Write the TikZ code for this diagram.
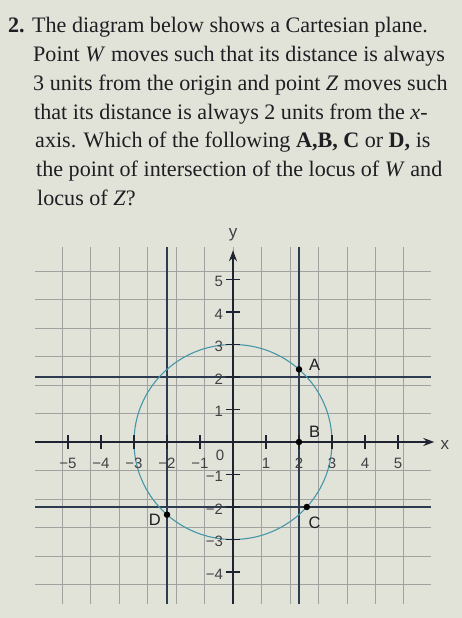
\documentclass[tikz,border=0pt]{standalone}
\usepackage{fontspec}
\setmainfont{Liberation Serif}
\newfontfamily\labfont{Liberation Sans}
\usetikzlibrary{arrows.meta}
\definecolor{bg}{RGB}{226,227,216}
\definecolor{ink}{RGB}{30,30,35}
\definecolor{gridc}{RGB}{160,162,160}
\definecolor{axisc}{RGB}{30,35,50}
\definecolor{linec}{RGB}{45,60,80}
\definecolor{circc}{RGB}{70,150,170}
\tikzset{
  txt/.style={anchor=base west, inner sep=0pt, text=ink, font=\fontsize{22.1}{26}\selectfont},
  gridline/.style={draw=gridc, line width=0.6pt},
  locus/.style={draw=linec, line width=1.3pt},
  axisline/.style={draw=axisc, line width=1.8pt},
  tickmark/.style={draw=axisc, line width=1.3pt},
  numlab/.style={inner sep=0pt, text=ink!85, font=\labfont\fontsize{15}{15}\selectfont},
  ptlab/.style={inner sep=0pt, text=ink, font=\labfont\fontsize{16.5}{16.5}\selectfont},
  dot/.style={circle, fill=black, inner sep=0pt, minimum size=6.5pt},
}
\begin{document}
\begin{tikzpicture}[x=1pt,y=1pt]
\fill[bg] (0,0) rectangle (462,618);
\useasboundingbox (0,0) rectangle (462,618);
% question text
\node[txt] (l1) at (8,585) {\textbf{2.} The diagram below shows a Cartesian plane.};
\node[txt] (l2) at (33,556) {Point \textit{W} moves such that its distance is always};
\node[txt] (l3) at (33,527) {3 units from the origin and point \textit{Z} moves such};
\node[txt] (l4) at (34,498) {that its distance is always 2 units from the \textit{x}-};
\node[txt] (l5) at (35,470) {axis. Which of the following \textbf{A,B, C} or \textbf{D,} is};
\node[txt] (l6) at (36,441) {the point of intersection of the locus of \textit{W} and};
\node[txt] (l7) at (37,412) {locus of \textit{Z}?};
% graph
\begin{scope}[shift={(233,176)}, x=33pt, y=32.5pt]
  \draw[gridline] (-6,-5) grid (6,6);
  \coordinate (vl1) at (-2,-5); \coordinate (vl2) at (-2,6);
  \coordinate (vr1) at (2,-5);  \coordinate (vr2) at (2,6);
  \coordinate (ht1) at (-6,2);  \coordinate (ht2) at (6,2);
  \coordinate (hb1) at (-6,-2); \coordinate (hb2) at (6,-2);
  \draw[locus] (vl1) -- (vl2);
  \draw[locus] (vr1) -- (vr2);
  \draw[locus] (ht1) -- (ht2);
  \draw[locus] (hb1) -- (hb2);
  \coordinate (O) at (0,0);
  \draw[draw=circc, line width=1.1pt] (O) circle [radius=3];
  \coordinate (xs) at (-6,0); \coordinate (xe) at (6.1,0);
  \coordinate (ys) at (0,-5); \coordinate (ye) at (0,5.9);
  \draw[axisline, -{Stealth[length=11pt,width=8pt]}] (xs) -- (xe);
  \draw[axisline, -{Stealth[length=11pt,width=8pt]}] (ys) -- (ye);
  \node[numlab, font=\labfont\fontsize{17}{17}\selectfont] (xl) at (6.42,-0.08) {x};
  \node[numlab, font=\labfont\fontsize{17}{17}\selectfont] (yl) at (0,6.37) {y};
  \foreach \i in {-5,...,-1,1,2,...,5} {
    \draw[tickmark] (\i,-0.22) -- (\i,0.22);
    \node[numlab] (xn\i) at (\i,-0.65) {\ifnum\i<0 −\the\numexpr-\i\relax\else\i\fi};
  }
  \foreach \j in {-4,...,-1,1,2,...,5} {
    \draw[tickmark] (-0.22,\j) -- (0.22,\j);
    \node[numlab, anchor=east] (yn\j) at (-0.3,\j-0.06) {\ifnum\j<0 −\the\numexpr-\j\relax\else\j\fi};
  }
  \node[numlab] (zero) at (-0.39,-0.4) {0};
  \node[dot] (A) at (2,2.236) {};
  \node[dot] (B) at (2,0) {};
  \node[dot] (C) at (2.236,-2) {};
  \node[dot] (D) at (-2,-2.236) {};
  \node[ptlab] (Al) at (2.47,2.37) {A};
  \node[ptlab] (Bl) at (2.47,0.3) {B};
  \node[ptlab] (Cl) at (2.47,-2.5) {C};
  \node[ptlab] (Dl) at (-2.37,-2.4) {D};
\end{scope}
\end{tikzpicture}
\end{document}
